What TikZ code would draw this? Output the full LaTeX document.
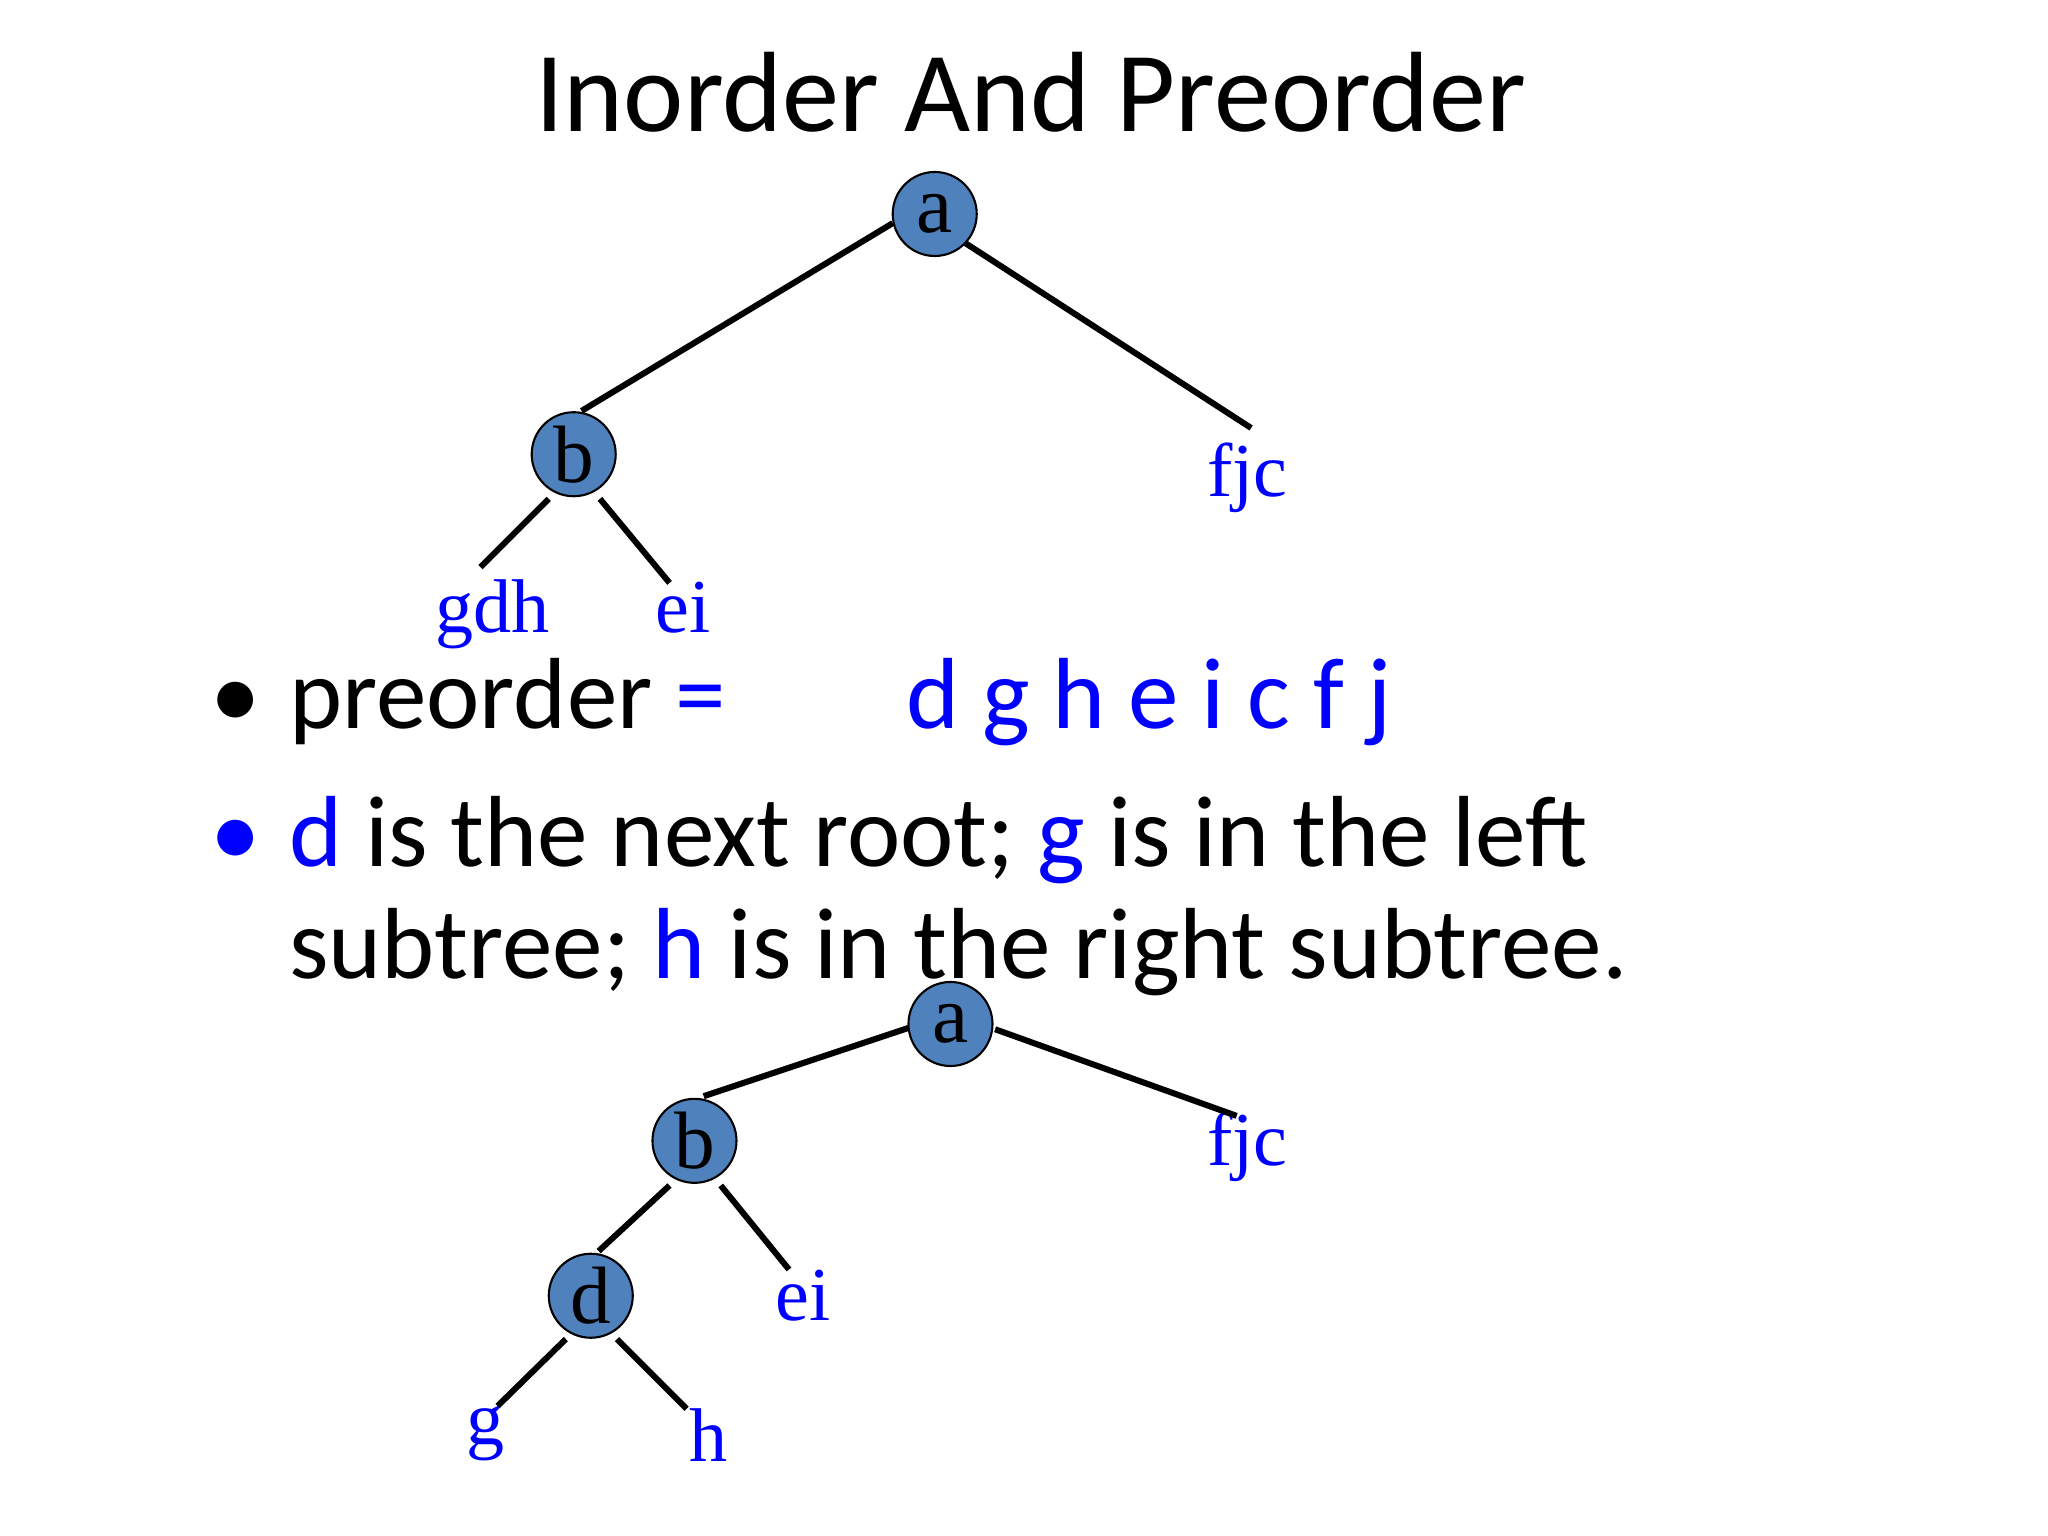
\documentclass[tikz,border=0pt]{standalone}
\usepackage{fontspec}
\setmainfont{Carlito}
\newfontfamily\tnr{Liberation Serif}
\definecolor{nodeblue}{HTML}{4F81BD}
\definecolor{tblue}{HTML}{0000FF}
\begin{document}
\begin{tikzpicture}[x=0.5pt,y=-0.5pt,
  tn/.style={circle,draw=black,fill=nodeblue,line width=0.8pt,minimum size=32pt,inner sep=0pt,font=\tnr\fontsize{31}{31}\selectfont},
  lab/.style={text=tblue,font=\tnr\fontsize{29}{29}\selectfont,anchor=base},
  edge/.style={line width=2.3pt,black},
  txt/.style={font=\fontsize{38.5}{38.5}\selectfont,anchor=base west,inner sep=0pt}]
\useasboundingbox (0,0) rectangle (1560,1170);
\node[font=\fontsize{43.5}{43.5}\selectfont,anchor=base,inner sep=0pt] (title) at (785,100) {Inorder And Preorder};
% top tree
\node[tn] (a1) at (712,163) {a};
\node[tn] (b1) at (437,346) {b};
\node[lab] (fjc1) at (950,378) {fjc};
\node[lab] (gdh1) at (375,482) {gdh};
\node[lab] (ei1) at (520,482) {ei};
\coordinate (a1l) at (680,170); \coordinate (b1t) at (443,313);
\coordinate (a1r) at (735,185); \coordinate (f1t) at (953,326);
\coordinate (b1l) at (418,380); \coordinate (g1t) at (366,432);
\coordinate (b1r) at (457,380); \coordinate (e1t) at (510,444);
\draw[edge] (a1l) -- (b1t);
\draw[edge] (a1r) -- (f1t);
\draw[edge] (b1l) -- (g1t);
\draw[edge] (b1r) -- (e1t);
% text
\node[txt] (bul1) at (160,555) {•};
\node[txt] (t1) at (220,555) {preorder \textcolor{tblue}{=}};
\node[txt,text=tblue] (t1b) at (690,555) {d g h e i c f j};
\node[txt,text=tblue] (bul2) at (160,660) {•};
\node[txt] (t2) at (220,660) {\textcolor{tblue}{d} is the next root; \textcolor{tblue}{g} is in the left};
\node[txt] (t3) at (220,745) {subtree; \textcolor{tblue}{h} is in the right subtree.};
% bottom tree
\node[tn] (a2) at (724,780) {a};
\node[tn] (b2) at (529,869) {b};
\node[tn] (d2) at (450,987) {d};
\node[lab] (fjc2) at (950,888) {fjc};
\node[lab] (ei2) at (612,1006) {ei};
\node[lab] (g2) at (370,1100) {g};
\node[lab] (h2) at (540,1113) {h};
\coordinate (a2l) at (692,783); \coordinate (b2t) at (536,835);
\coordinate (a2r) at (758,784); \coordinate (f2t) at (942,850);
\coordinate (b2l) at (510,903); \coordinate (d2t) at (456,953);
\coordinate (b2r) at (549,903); \coordinate (e2t) at (601,967);
\coordinate (d2l) at (431,1020); \coordinate (g2t) at (379,1071);
\coordinate (d2r) at (470,1020); \coordinate (h2t) at (523,1073);
\draw[edge] (a2l) -- (b2t);
\draw[edge] (a2r) -- (f2t);
\draw[edge] (b2l) -- (d2t);
\draw[edge] (b2r) -- (e2t);
\draw[edge] (d2l) -- (g2t);
\draw[edge] (d2r) -- (h2t);
\end{tikzpicture}
\end{document}
